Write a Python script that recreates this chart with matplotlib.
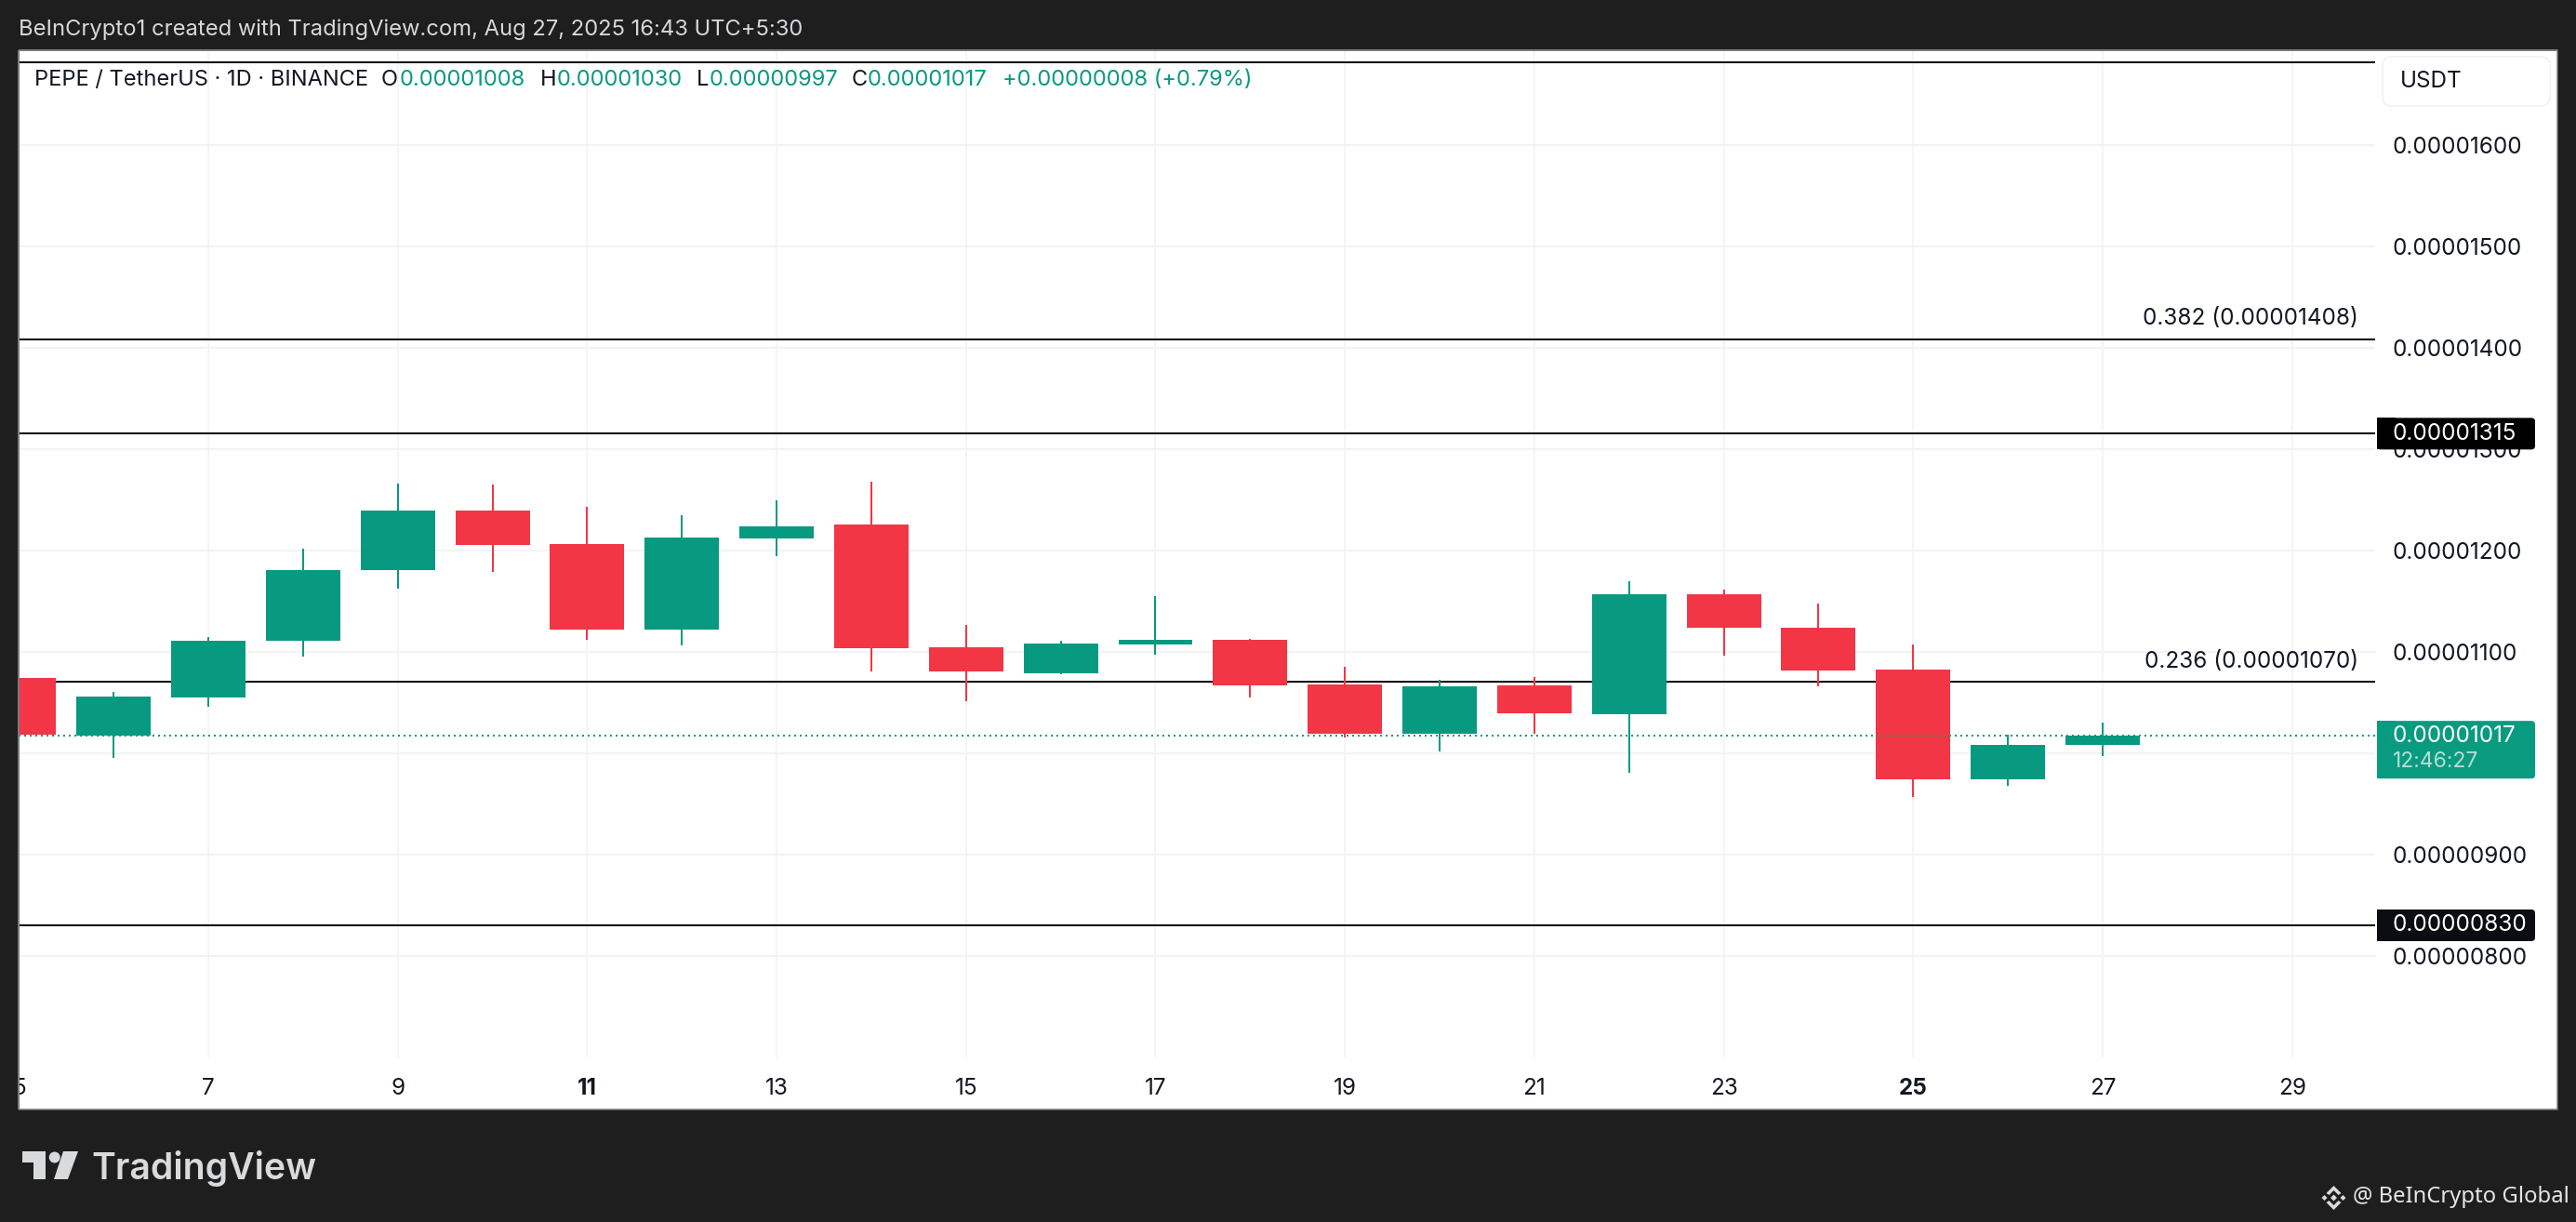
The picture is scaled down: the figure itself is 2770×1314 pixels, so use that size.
import matplotlib
matplotlib.use("Agg")
import matplotlib.pyplot as plt
from matplotlib.patches import Rectangle, FancyBboxPatch, Polygon, Circle

# Prices are in units of 0.00000001
days   = [5, 6, 7, 8, 9, 10, 11, 12, 13, 14, 15, 16, 17, 18, 19, 20, 21, 22, 23, 24, 25, 26, 27]
opens  = [1074, 1017, 1055, 1111, 1180, 1239, 1206, 1122, 1212, 1225, 1104, 1079, 1107, 1112, 1068, 1019, 1067, 1038, 1157, 1124, 1082, 974, 1008]
highs  = [1074, 1060, 1114, 1202, 1266, 1265, 1243, 1235, 1249, 1268, 1126, 1111, 1155, 1113, 1085, 1072, 1075, 1169, 1161, 1147, 1107, 1018, 1030]
lows   = [1018, 995, 1046, 1095, 1162, 1179, 1112, 1106, 1194, 1080, 1051, 1078, 1097, 1055, 1015, 1002, 1019, 980, 1096, 1066, 957, 968, 997]
closes = [1018, 1056, 1111, 1180, 1239, 1205, 1122, 1213, 1224, 1103, 1080, 1108, 1112, 1067, 1019, 1066, 1039, 1157, 1124, 1081, 974, 1008, 1017]

fib_levels = [0.5, 0.382, 0.236]
fib_prices = [1681, 1408, 1070]
key_prices = [1315, 830]
last_price = 1017
y_ticks = [800, 900, 1000, 1100, 1200, 1300, 1400, 1500, 1600]
hidden_y_labels = [1000]
x_ticks = [5, 7, 9, 11, 13, 15, 17, 19, 21, 23, 25, 27, 29]
bold_days = [11, 25]

UP, DOWN = "#089981", "#F23645"
DARK, INK = "#1E1E1E", "#131722"
GRID = "#F2F3F4"
W, H = 2770, 1314
PX = 0.72  # one pixel in points at dpi 100
FONT = "Inter"
AXFS = 17.5
LEGFS = 17
plt.rcParams["font.family"] = [FONT, "DejaVu Sans"]

def price_label(v):
    return f"{v * 1e-8:.8f}"

fig = plt.figure(figsize=(W / 100, H / 100), dpi=100, facecolor=DARK)

# white panel behind everything
bg = fig.add_axes([0, 0, 1, 1], zorder=-1)
bg.set_xlim(0, W); bg.set_ylim(H, 0); bg.axis("off")
bg.add_patch(Rectangle((20, 54), 2730, 1139, facecolor="white", edgecolor="#7B7B7B", lw=1.5 * PX))

# main price pane
L, R, T, B = 20, 2554, 54, 1137
ax = fig.add_axes([L / W, 1 - B / H, (R - L) / W, (B - T) / H], zorder=1)
ax.patch.set_alpha(0)
ax.set_xlim(4.997, 29.877)
ax.set_ylim(699.7, 1693.3)
for s in ax.spines.values():
    s.set_visible(False)
ax.set_axisbelow(True)
ax.grid(axis="y", color=GRID, lw=2 * PX)
ax.grid(axis="x", color=GRID, lw=1.6 * PX)
ax.yaxis.tick_right()
ax.set_yticks(y_ticks)
ax.set_yticklabels(["" if v in hidden_y_labels else price_label(v) for v in y_ticks])
ax.set_xticks(x_ticks)
ax.set_xticklabels([str(d) for d in x_ticks])
ax.tick_params(axis="y", length=0, pad=19 * PX, labelsize=AXFS, labelcolor=INK)
ax.tick_params(axis="x", length=0, pad=22 * PX, labelsize=AXFS, labelcolor=INK)
for lab, d in zip(ax.get_xticklabels(), x_ticks):
    if d in bold_days:
        lab.set_fontweight("bold")

# horizontal levels
for p in fib_prices + key_prices:
    ax.axhline(p, color="black", lw=2 * PX, zorder=2)

# candles
for d, o, h, l, c in zip(days, opens, highs, lows, closes):
    col = UP if c >= o else DOWN
    ax.vlines(d, l, h, color=col, lw=2 * PX, zorder=3)
    ax.bar(d, abs(c - o), bottom=min(o, c), width=0.785, color=col, lw=0, zorder=4)

# current price line
ax.axhline(last_price, color=UP, lw=2 * PX, ls=(0, (1, 2)), zorder=5)

# fib labels
for lev, p in zip(fib_levels, fib_prices):
    txt = f"{lev:g} ({price_label(p)})"
    ax.annotate(txt, xy=(1, p), xycoords=("axes fraction", "data"),
                xytext=(-18 * PX, 22 * PX), textcoords="offset points",
                ha="right", va="center", fontsize=AXFS, color=INK,
                annotation_clip=False, clip_on=True)

def ypx(v):
    return H - ax.transData.transform((0, v))[1]

# overlay chrome in pixel space
ch = fig.add_axes([0, 0, 1, 1], zorder=2)
ch.set_xlim(0, W); ch.set_ylim(H, 0); ch.axis("off"); ch.patch.set_alpha(0)
ch.add_patch(Rectangle((0, 0), W, 53, facecolor=DARK, lw=0))
ch.add_patch(Rectangle((0, 0), 19.5, H, facecolor=DARK, lw=0))
ch.add_patch(Rectangle((20, 53), 2730, 1.5, facecolor="#7B7B7B", lw=0))
ch.add_patch(Rectangle((19, 54), 1.5, 1139, facecolor="#7B7B7B", lw=0))

def tag(y0, y1, color):
    ch.add_patch(FancyBboxPatch((2560, y0 + 4), 162, y1 - y0 - 8,
                                boxstyle="round,pad=4,rounding_size=4", facecolor=color, lw=0))
    ch.add_patch(Rectangle((2556, y0), 20, y1 - y0, facecolor=color, lw=0))

TXT_X = 2573
for p, col in zip(key_prices, ["#000000", "#0B0D12"]):
    y = ypx(p)
    tag(y - 17, y + 17, col)
    ch.text(TXT_X, y, price_label(p), color="white", fontsize=AXFS, va="center", ha="left")

y = ypx(last_price)
tag(y - 16, y + 46, "#089B80")
ch.text(TXT_X, y, price_label(last_price), color="white", fontsize=AXFS, va="center", ha="left")
ch.text(TXT_X, y + 28, "12:46:27", color="#B5DED4", fontsize=16.5, va="center", ha="left")

# currency button
ch.add_patch(FancyBboxPatch((2568, 67), 168, 41, boxstyle="round,pad=6,rounding_size=10",
                            facecolor="white", edgecolor="#F0F1F2", lw=1.5 * PX))
ch.text(2581, 88, "USDT", color=INK, fontsize=AXFS, va="center", ha="left")

# header
ch.text(20, 32, "BeInCrypto1 created with TradingView.com, Aug 27, 2025 16:43 UTC+5:30",
        color="#D6D8DB", fontsize=17.1, va="center", ha="left")

# legend row
LEG_Y = 86
ch.text(37, LEG_Y, "PEPE / TetherUS · 1D · BINANCE", color=INK, fontsize=LEGFS, va="center", ha="left")
for key, kx, val, vx in [("O", 410, opens[-1], 430), ("H", 581, highs[-1], 599),
                         ("L", 749, lows[-1], 763), ("C", 916, closes[-1], 933)]:
    ch.text(kx, LEG_Y, key, color=INK, fontsize=LEGFS, va="center", ha="left")
    ch.text(vx, LEG_Y, price_label(val), color=UP, fontsize=LEGFS, va="center", ha="left")
ch.text(1078, LEG_Y, "+0.00000008 (+0.79%)", color=UP, fontsize=LEGFS, va="center", ha="left")

# TradingView logo
LOGO = "#D8DADC"
ch.add_patch(Polygon([(24, 1238), (48.5, 1238), (48.5, 1268), (36, 1268), (36, 1250), (24, 1250)], facecolor=LOGO, lw=0))
ch.add_patch(Circle((58.7, 1244.5), 6, facecolor=LOGO, lw=0))
ch.add_patch(Polygon([(68, 1238), (84, 1238), (73, 1268), (58, 1268)], facecolor=LOGO, lw=0))
ch.text(98, 1268, "TradingView", color=LOGO, fontsize=28.2, fontweight="semibold",
        va="baseline", ha="left", family=["Inter", "DejaVu Sans"])

# BeInCrypto mark
MARK = "#D8DADC"
def diamond(cx, cy, r):
    ch.add_patch(Polygon([(cx - r, cy), (cx, cy - r), (cx + r, cy), (cx, cy + r)], facecolor=MARK, lw=0))
diamond(2509.5, 1288, 3.5)
diamond(2499.5, 1288, 3)
diamond(2519.5, 1288, 3)
ch.add_patch(Polygon([(2501.5, 1283), (2509.5, 1275), (2517.5, 1283), (2514.5, 1285), (2509.5, 1280), (2504.5, 1285)], facecolor=MARK, lw=0))
ch.add_patch(Polygon([(2501.5, 1293), (2509.5, 1301), (2517.5, 1293), (2514.5, 1291), (2509.5, 1296), (2504.5, 1291)], facecolor=MARK, lw=0))
ch.text(2530, 1287, "@ BeInCrypto Global", color="#E4E5E6", fontsize=17.2, va="center", ha="left",
        family=["Noto Sans", "DejaVu Sans"])

fig.savefig("out.png", dpi=100, facecolor=DARK)
